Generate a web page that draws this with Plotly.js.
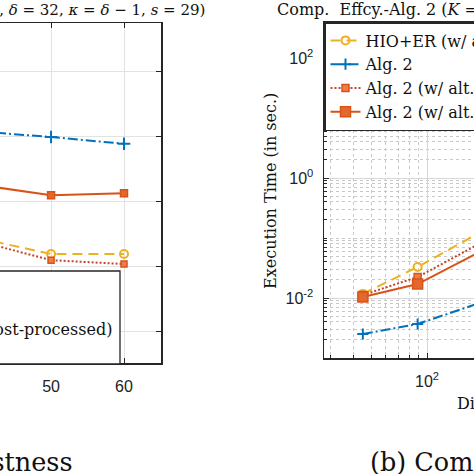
<!DOCTYPE html>
<html><head><meta charset="utf-8">
<script src="https://cdn.plot.ly/plotly-3.0.1.min.js"></script>
<style>html,body{margin:0;padding:0;background:#fff}#chart{width:474px;height:474px}</style>
</head><body><div id="chart"></div>
<script>
// ---- Panel (a): robustness ----
const noiseX = [40, 50, 60];
const robHioEr = [-35.7, -38.15, -38.15];
const robAlg2 = [-19.3, -20.15, -21.2];
const robAltMin = [-36.15, -39.1, -39.7];
const robPost = [-27.5, -29.1, -28.8];
// ---- Panel (b): computational efficiency ----
const dims = [45, 89, 200];
const timeHioEr = [0.0117, 0.0329, 0.131];
const timeAlg2 = [0.00251, 0.00369, 0.00858];
const timeAltMin = [0.0112, 0.0224, 0.0858];
const timePost = [0.0104, 0.0171, 0.0623];
const seriesNames = ["HIO+ER (w/ alt. min.)", "Alg. 2", "Alg. 2 (w/ alt. min.)", "Alg. 2 (w/ alt. min. &amp; post-processed)"];
const yTickVals = [0.01, 1, 100];
const yTickText = ["10<sup>-2</sup>", "10<sup>0</sup>", "10<sup>2</sup>"];
const xTickVals = [100];
const xTickText = ["10<sup>2</sup>"];

const W = 474, H = 474;
const px = v => v / W, py = v => 1 - v / H;
const YEL = '#EDB120', BLU = '#0072BD', ORA = '#D95319', RED = '#C4432B';
const SERIF = 'DejaVu Serif, serif';
const SANS = 'Liberation Sans, Arial, sans-serif';
const AX = '#262626';

const xMinor = [], yMinor = [];
for (let k = 1; k <= 2; k++) for (let m = 2; m <= 9; m++) xMinor.push(m * Math.pow(10, k));
for (let k = -3; k <= 2; k++) {
  if (k % 2 !== 0) yMinor.push(Math.pow(10, k));
  for (let m = 2; m <= 9; m++) yMinor.push(m * Math.pow(10, k));
}

const styles = [
  {line: {color: YEL, width: 2, dash: '10px,6px'}, mk: {symbol: 'circle-open', color: YEL, line: {color: YEL, width: 2}}, szL: 8, szR: 8},
  {line: {color: BLU, width: 2, dash: '10px,3px,2px,3px'}, mk: {symbol: 'cross-thin', color: BLU, line: {color: BLU, width: 2}}, szL: 9, szR: 8},
  {line: {color: RED, width: 2, dash: '2px,2px'}, mk: {symbol: 'square', color: '#EC7E4A', line: {color: ORA, width: 1.5}}, szL: 6, szR: 7},
  {line: {color: ORA, width: 2}, mk: {symbol: 'square', color: '#E4682E', line: {color: ORA, width: 1.5}}, szL: 7, szR: 10}
];
const robSeries = [robHioEr, robAlg2, robAltMin, robPost];
const timeSeries = [timeHioEr, timeAlg2, timeAltMin, timePost];

const traces = [];
robSeries.forEach((ys, i) => {
  const s = styles[i];
  traces.push({x: noiseX, y: ys, xaxis: 'x', yaxis: 'y', mode: 'lines+markers', name: seriesNames[i],
    line: s.line, marker: Object.assign({}, s.mk, {size: s.szL}), showlegend: false, cliponaxis: true});
});
timeSeries.forEach((ys, i) => {
  const s = styles[i];
  traces.push({x: dims, y: ys, xaxis: 'x2', yaxis: 'y2', mode: 'lines+markers', name: seriesNames[i],
    line: s.line, marker: Object.assign({}, s.mk, {size: s.szR}), showlegend: true, cliponaxis: true});
});

const layout = {
  width: W, height: H,
  margin: {l: 0, r: 0, t: 0, b: 0, autoexpand: false},
  paper_bgcolor: '#fff', plot_bgcolor: '#fff',
  showlegend: true,
  xaxis: {domain: [0, px(161)], range: [43.0, 65.07], dtick: 10, tick0: 0, anchor: 'y',
    ticks: 'inside', ticklen: 5, tickcolor: AX, showline: true, linecolor: AX, linewidth: 1.5, mirror: 'ticks',
    showgrid: true, gridcolor: '#E2E2E2', zeroline: false, ticklabelstandoff: 8,
    tickfont: {family: SANS, size: 16, color: '#222'}},
  yaxis: {domain: [py(363), py(23)], range: [-54.92, -2.615], dtick: 10, anchor: 'x', side: 'right',
    ticks: 'inside', ticklen: 5, tickcolor: AX, showline: true, linecolor: AX, linewidth: 1.5,
    showticklabels: false, showgrid: true, gridcolor: '#E2E2E2', zeroline: false},
  xaxis2: {type: 'log', domain: [px(324), 1], range: [1.4432, 2.2541], anchor: 'y2',
    tickvals: xTickVals, ticktext: xTickText, ticks: 'inside', ticklen: 5, tickcolor: AX,
    showline: true, linecolor: AX, linewidth: 1.5, mirror: 'ticks', ticklabelstandoff: 8,
    showgrid: true, gridcolor: '#D6D6D6', zeroline: false,
    tickfont: {family: SANS, size: 16, color: '#222'},
    minor: {tickmode: 'array', tickvals: xMinor, ticks: 'inside', ticklen: 3, tickcolor: AX,
      showgrid: true, gridcolor: '#C8C8C8', griddash: 'dot', gridwidth: 1}},
  yaxis2: {type: 'log', domain: [py(358), py(22)], range: [-3.0, 2.6], anchor: 'x2',
    tickvals: yTickVals, ticktext: yTickText, ticks: 'inside', ticklen: 5, tickcolor: AX,
    showline: true, linecolor: AX, linewidth: 1.5, ticklabelstandoff: 6,
    showgrid: true, gridcolor: '#D6D6D6', zeroline: false,
    tickfont: {family: SANS, size: 16, color: '#222'},
    minor: {tickmode: 'array', tickvals: yMinor, ticks: 'inside', ticklen: 3, tickcolor: AX,
      showgrid: true, gridcolor: '#C8C8C8', griddash: 'dot', gridwidth: 1}},
  legend: {x: px(324), y: py(22), xanchor: 'left', yanchor: 'top', bgcolor: '#fff',
    bordercolor: AX, borderwidth: 1.5, tracegroupgap: 0,
    font: {family: SERIF, size: 16, color: '#111'}},
  shapes: [
    {type: 'rect', xref: 'paper', yref: 'paper', x0: -0.6, x1: px(120), y0: py(364), y1: py(271),
      fillcolor: '#fff', line: {color: AX, width: 1.3}, layer: 'above'}
  ],
  annotations: [
    {xref: 'paper', yref: 'paper', x: px(207), y: py(10), xanchor: 'right', yanchor: 'middle', showarrow: false,
      text: 'Robustness (<i>K</i> = 4, <i>n</i> = 64, <i>δ</i> = 32, <i>κ</i> = <i>δ</i> − 1, <i>s</i> = 29)',
      font: {family: SERIF, size: 15, color: '#111'}},
    {xref: 'paper', yref: 'paper', x: px(275), y: py(10), xanchor: 'left', yanchor: 'middle', showarrow: false,
      text: 'Comp.  Effcy.-Alg. 2 (<i>K</i> = 4, <i>δ</i> = 32)',
      font: {family: SERIF, size: 16, color: '#111'}},
    {xref: 'paper', yref: 'paper', x: px(114), y: py(329), xanchor: 'right', yanchor: 'middle', showarrow: false,
      text: 'Alg. 2 (w/ alt. min. &amp; post-processed)',
      font: {family: SERIF, size: 16, color: '#111'}},
    {xref: 'paper', yref: 'paper', x: px(270), y: py(191), xanchor: 'center', yanchor: 'middle', showarrow: false,
      textangle: -90, text: 'Execution Time (in sec.)',
      font: {family: SERIF, size: 16, color: '#111'}},
    {xref: 'paper', yref: 'paper', x: px(455), y: py(403), xanchor: 'left', yanchor: 'middle', showarrow: false,
      text: 'Dimension (<i>n</i>)',
      font: {family: SERIF, size: 16, color: '#111'}},
    {xref: 'paper', yref: 'paper', x: px(75), y: py(462), xanchor: 'right', yanchor: 'middle', showarrow: false,
      text: '(a) Robustness',
      font: {family: SERIF, size: 25.5, color: '#111'}},
    {xref: 'paper', yref: 'paper', x: px(368), y: py(462), xanchor: 'left', yanchor: 'middle', showarrow: false,
      text: '(b) Computational Efficiency',
      font: {family: SERIF, size: 25.5, color: '#111'}}
  ]
};

Plotly.newPlot('chart', traces, layout, {staticPlot: true, displayModeBar: false});
</script>
</body></html>
